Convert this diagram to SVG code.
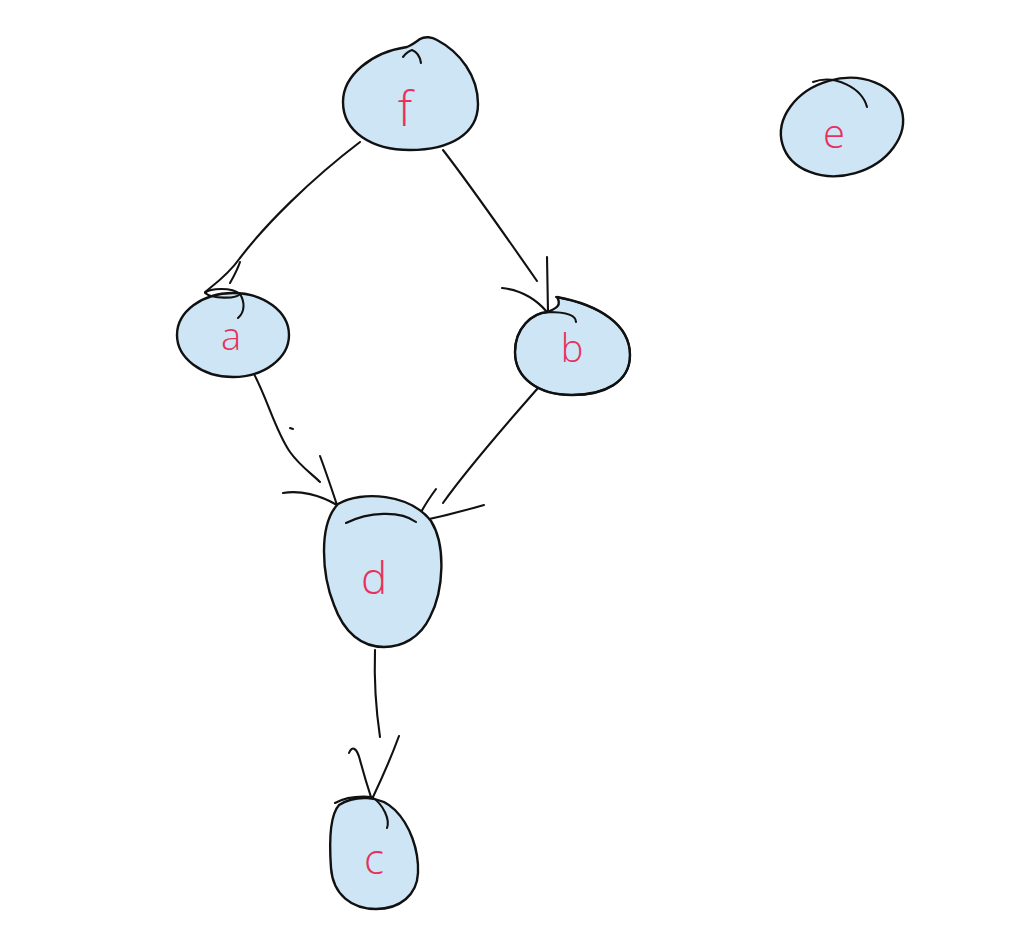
<svg xmlns="http://www.w3.org/2000/svg" width="1024" height="950" viewBox="0 0 1024 950">
<style>
.node{fill:#cde5f5;stroke:#111;stroke-width:2.4;stroke-linejoin:round}
.ln{fill:none;stroke:#111;stroke-width:2.1;stroke-linecap:round;stroke-linejoin:round}
.lbl{fill:#e8315a;font-family:"Open Sans","DejaVu Sans",sans-serif;font-weight:300;text-anchor:middle}
</style>
<rect width="1024" height="950" fill="#fff"/>
<g id="connectors">
  <g id="edge-f-a">
    <path class="ln" d="M360,142 C310,180 265,225 240,258 C228,275 215,284 205,292"/>
    <path class="ln" d="M230,283 C234,276 238,268 240,262"/>
  </g>
  <g id="edge-f-b">
    <path class="ln" d="M443,150 C470,185 505,235 537,281"/>
    <path class="ln" d="M547,257 L548,312"/>
    <path class="ln" d="M502,288 C520,290 535,298 547,312"/>
  </g>
  <g id="edge-a-d">
    <path class="ln" d="M253,372 C268,400 275,430 290,452 C300,466 312,474 320,482"/>
    <path class="ln" d="M290,428 L293,429"/>
    <path class="ln" d="M320,456 C326,472 332,490 337,505"/>
    <path class="ln" d="M283,493 C300,490 320,495 337,505"/>
  </g>
  <g id="edge-b-d">
    <path class="ln" d="M538,388 C510,420 470,465 443,503"/>
    <path class="ln" d="M436,489 C428,500 420,512 416,523"/>
    <path class="ln" d="M484,505 C460,512 435,518 416,522"/>
  </g>
  <g id="edge-d-c">
    <path class="ln" d="M375,650 C374,680 376,710 380,737"/>
    <path class="ln" d="M349,753 C352,745 357,748 360,760 C364,775 368,788 371,797"/>
    <path class="ln" d="M399,736 C392,755 382,778 373,797"/>
  </g>
</g>
<g id="node-f">
  <path class="node" d="M343,102 C343,75 372,52 407,47 C412,45 416,42 420,39 C425,36 432,37 437,40 C460,52 478,76 478,104 C478,134 450,150 410,150 C372,150 343,132 343,102 Z"/>
  <path class="ln" d="M403,57 C406,53 409,51 412,50 C417,52 420,56 421,63"/>
  <text class="lbl" x="405" y="126" font-size="48">f</text>
</g>
<g id="node-e">
  <ellipse class="node" cx="842" cy="127" rx="62" ry="48" transform="rotate(-16 842 127)"/>
  <path class="ln" d="M813,82 C835,74 862,88 867,107"/>
  <text class="lbl" x="834" y="148" font-size="40">e</text>
</g>
<g id="node-a">
  <ellipse class="node" cx="233" cy="335" rx="56" ry="42"/>
  <path class="ln" d="M205,293 C210,288 232,287 240,294 C237,299 212,299 205,293 Z"/>
  <path class="ln" d="M240,294 C245,302 245,312 238,318"/>
  <text class="lbl" x="231" y="350" font-size="38">a</text>
</g>
<g id="node-b">
  <path class="node" d="M557,297 C600,305 630,325 630,355 C630,382 605,395 572,395 C538,395 515,378 515,352 C515,328 532,313 548,312 C556,308 562,306 557,297 Z" stroke-width="0"/>
  <path class="ln" d="M556,297 C600,305 630,325 630,355 C630,382 605,395 572,395 C538,395 515,378 515,352 C515,328 532,313 548,312 C562,312 576,314 576,322" stroke-width="2.4"/>
  <text class="lbl" x="572" y="362" font-size="38">b</text>
</g>
<g id="node-d">
  <path class="node" d="M338,504 C362,490 410,494 431,521 C446,545 444,590 430,617 C420,638 402,647 384,647 C362,647 344,633 334,605 C322,575 318,525 338,504 Z"/>
  <path class="ln" d="M346,523 C368,512 400,510 416,522"/>
  <text class="lbl" x="374" y="594" font-size="44">d</text>
</g>
<g id="node-c">
  <path class="node" d="M339,805 C355,795 380,795 395,810 C410,825 419,850 418,873 C417,895 400,909 376,909 C352,909 333,895 331,868 C329,840 330,815 339,805 Z"/>
  <path class="ln" d="M335,803 C346,797 360,796 372,797 C384,805 390,820 387,828"/>
  <text class="lbl" x="374" y="874" font-size="42">c</text>
</g>
</svg>
